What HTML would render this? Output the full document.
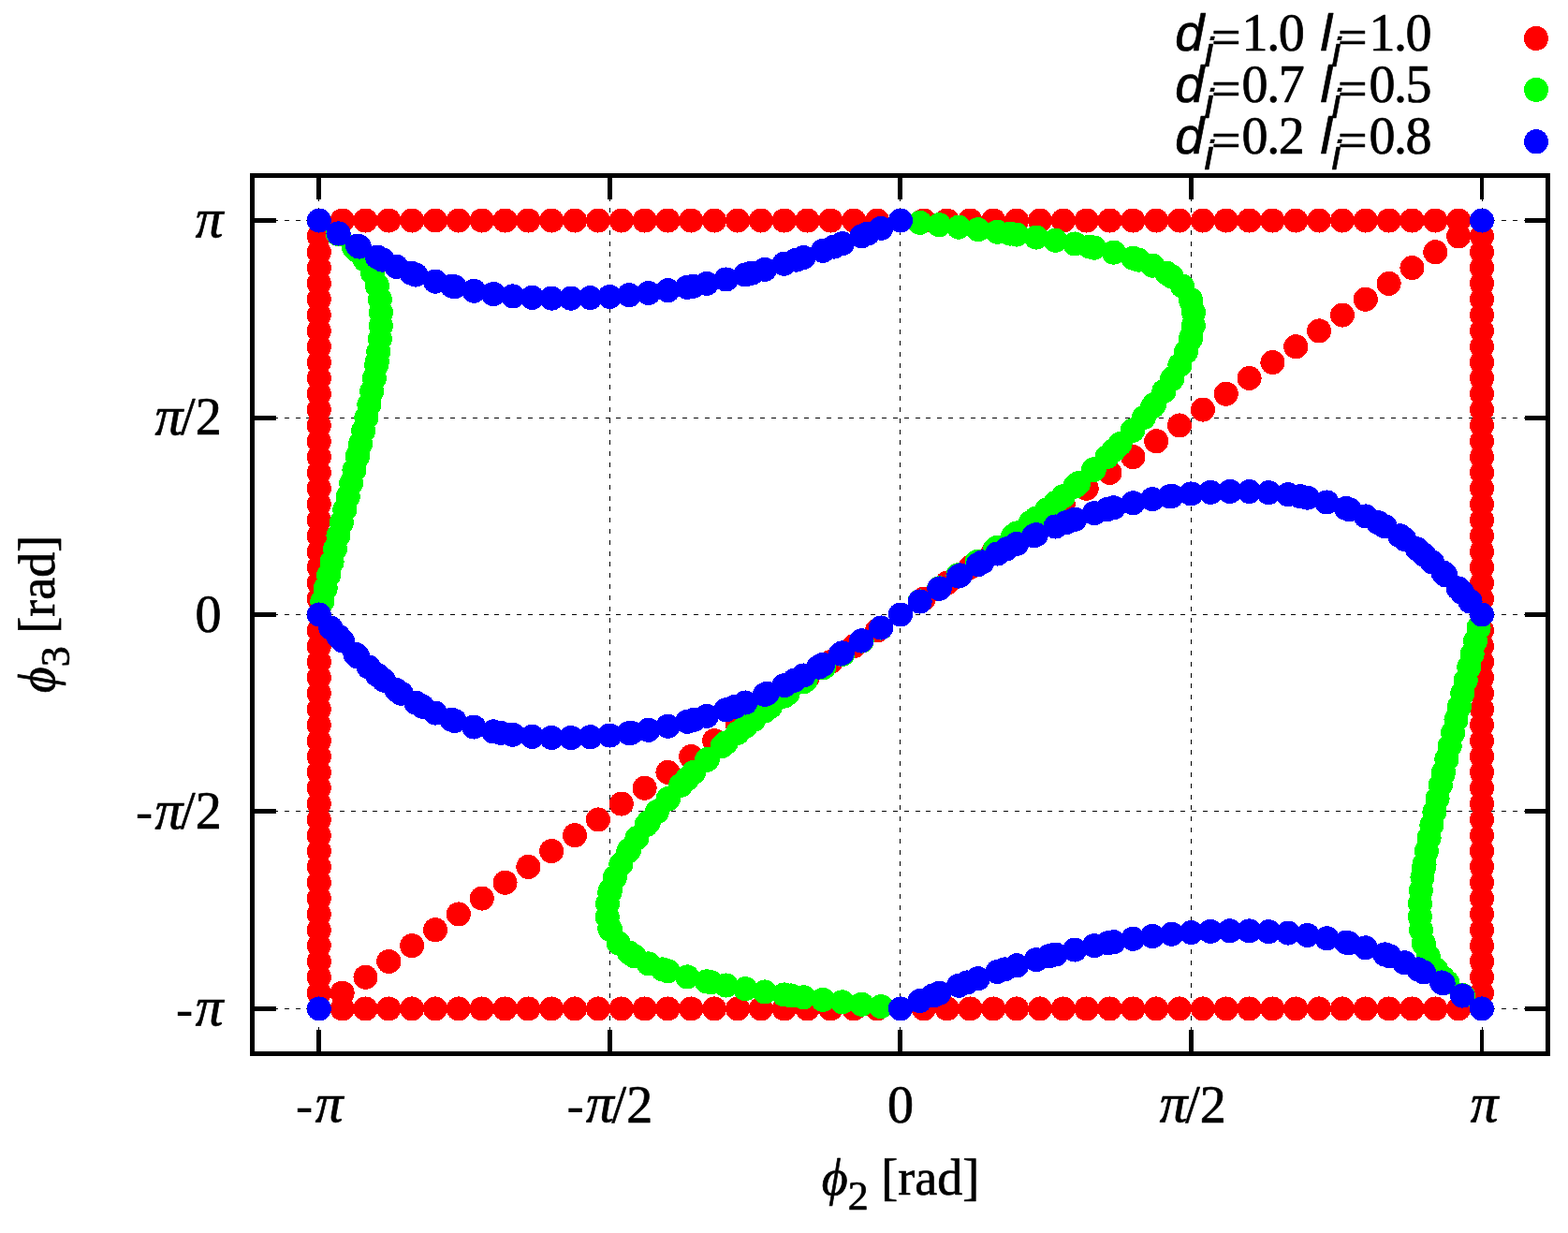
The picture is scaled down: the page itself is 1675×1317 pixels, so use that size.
<!DOCTYPE html>
<html><head><meta charset="utf-8"><title>phi2 phi3</title><style>html,body{margin:0;padding:0;background:#fff}svg{display:block}</style></head><body>
<svg width="1675" height="1317" viewBox="0 0 1675 1317">
<rect width="1675" height="1317" fill="#fff"/>
<g stroke="#000" stroke-width="1" stroke-dasharray="5 6.82" fill="none" shape-rendering="crispEdges"><path d="M340.5 1125.5V190.0"/><path d="M651.5 1125.5V190.0"/><path d="M961.5 1125.5V190.0"/><path d="M1272.5 1125.5V190.0"/><path d="M1583.5 1125.5V190.0"/><path d="M268.3 235.5H1651.0"/><path d="M268.3 446.5H1651.0"/><path d="M268.3 656.5H1651.0"/><path d="M268.3 866.5H1651.0"/><path d="M268.3 1077.5H1651.0"/></g>
<g fill="#000" shape-rendering="crispEdges"><rect x="338" y="190" width="5" height="23"/><rect x="338" y="1100" width="5" height="23"/><rect x="649" y="190" width="5" height="23"/><rect x="649" y="1100" width="5" height="23"/><rect x="959" y="190" width="5" height="23"/><rect x="959" y="1100" width="5" height="23"/><rect x="1270" y="190" width="5" height="23"/><rect x="1270" y="1100" width="5" height="23"/><rect x="1581" y="190" width="4" height="23"/><rect x="1581" y="1100" width="4" height="23"/><rect x="272" y="233" width="23" height="5"/><rect x="1629" y="233" width="22" height="5"/><rect x="272" y="444" width="23" height="5"/><rect x="1629" y="444" width="22" height="5"/><rect x="272" y="654" width="23" height="5"/><rect x="1629" y="654" width="22" height="5"/><rect x="272" y="864" width="23" height="5"/><rect x="1629" y="864" width="22" height="5"/><rect x="272" y="1075" width="23" height="5"/><rect x="1629" y="1075" width="22" height="5"/></g>
<g shape-rendering="crispEdges">
<g fill="#ff0000"><circle cx="340.78" cy="1077.47" r="13.03"/><circle cx="340.78" cy="235.53" r="13.03"/><circle cx="365.62" cy="1060.63" r="13.03"/><circle cx="365.62" cy="235.53" r="13.03"/><circle cx="365.62" cy="1077.47" r="13.03"/><circle cx="390.47" cy="1043.80" r="13.03"/><circle cx="390.47" cy="235.53" r="13.03"/><circle cx="390.47" cy="1077.47" r="13.03"/><circle cx="415.31" cy="1026.96" r="13.03"/><circle cx="415.31" cy="235.53" r="13.03"/><circle cx="415.31" cy="1077.47" r="13.03"/><circle cx="440.16" cy="1010.12" r="13.03"/><circle cx="440.16" cy="235.53" r="13.03"/><circle cx="440.16" cy="1077.47" r="13.03"/><circle cx="465.00" cy="993.28" r="13.03"/><circle cx="465.00" cy="235.53" r="13.03"/><circle cx="465.00" cy="1077.47" r="13.03"/><circle cx="489.85" cy="976.44" r="13.03"/><circle cx="489.85" cy="235.53" r="13.03"/><circle cx="489.85" cy="1077.47" r="13.03"/><circle cx="514.69" cy="959.60" r="13.03"/><circle cx="514.69" cy="235.53" r="13.03"/><circle cx="514.69" cy="1077.47" r="13.03"/><circle cx="539.54" cy="942.76" r="13.03"/><circle cx="539.54" cy="235.53" r="13.03"/><circle cx="539.54" cy="1077.47" r="13.03"/><circle cx="564.38" cy="925.92" r="13.03"/><circle cx="564.38" cy="235.53" r="13.03"/><circle cx="564.38" cy="1077.47" r="13.03"/><circle cx="589.23" cy="909.08" r="13.03"/><circle cx="589.23" cy="235.53" r="13.03"/><circle cx="589.23" cy="1077.47" r="13.03"/><circle cx="614.07" cy="892.25" r="13.03"/><circle cx="614.07" cy="235.53" r="13.03"/><circle cx="614.07" cy="1077.47" r="13.03"/><circle cx="638.92" cy="875.41" r="13.03"/><circle cx="638.92" cy="235.53" r="13.03"/><circle cx="638.92" cy="1077.47" r="13.03"/><circle cx="663.76" cy="858.57" r="13.03"/><circle cx="663.76" cy="235.53" r="13.03"/><circle cx="663.76" cy="1077.47" r="13.03"/><circle cx="688.61" cy="841.73" r="13.03"/><circle cx="688.61" cy="235.53" r="13.03"/><circle cx="688.61" cy="1077.47" r="13.03"/><circle cx="713.45" cy="824.89" r="13.03"/><circle cx="713.45" cy="235.53" r="13.03"/><circle cx="713.45" cy="1077.47" r="13.03"/><circle cx="738.30" cy="808.05" r="13.03"/><circle cx="738.30" cy="235.53" r="13.03"/><circle cx="738.30" cy="1077.47" r="13.03"/><circle cx="763.14" cy="791.21" r="13.03"/><circle cx="763.14" cy="235.53" r="13.03"/><circle cx="763.14" cy="1077.47" r="13.03"/><circle cx="787.99" cy="774.37" r="13.03"/><circle cx="787.99" cy="235.53" r="13.03"/><circle cx="787.99" cy="1077.47" r="13.03"/><circle cx="812.83" cy="757.53" r="13.03"/><circle cx="812.83" cy="235.53" r="13.03"/><circle cx="812.83" cy="1077.47" r="13.03"/><circle cx="837.68" cy="740.69" r="13.03"/><circle cx="837.68" cy="235.53" r="13.03"/><circle cx="837.68" cy="1077.47" r="13.03"/><circle cx="862.52" cy="723.86" r="13.03"/><circle cx="862.52" cy="235.53" r="13.03"/><circle cx="862.52" cy="1077.47" r="13.03"/><circle cx="887.37" cy="707.02" r="13.03"/><circle cx="887.37" cy="235.53" r="13.03"/><circle cx="887.37" cy="1077.47" r="13.03"/><circle cx="912.21" cy="690.18" r="13.03"/><circle cx="912.21" cy="235.53" r="13.03"/><circle cx="912.21" cy="1077.47" r="13.03"/><circle cx="937.06" cy="673.34" r="13.03"/><circle cx="937.06" cy="235.53" r="13.03"/><circle cx="937.06" cy="1077.47" r="13.03"/><circle cx="961.90" cy="656.50" r="13.03"/><circle cx="961.90" cy="235.53" r="13.03"/><circle cx="961.90" cy="1077.47" r="13.03"/><circle cx="986.74" cy="639.66" r="13.03"/><circle cx="986.74" cy="235.53" r="13.03"/><circle cx="986.74" cy="1077.47" r="13.03"/><circle cx="1011.59" cy="622.82" r="13.03"/><circle cx="1011.59" cy="235.53" r="13.03"/><circle cx="1011.59" cy="1077.47" r="13.03"/><circle cx="1036.43" cy="605.98" r="13.03"/><circle cx="1036.43" cy="235.53" r="13.03"/><circle cx="1036.43" cy="1077.47" r="13.03"/><circle cx="1061.28" cy="589.14" r="13.03"/><circle cx="1061.28" cy="235.53" r="13.03"/><circle cx="1061.28" cy="1077.47" r="13.03"/><circle cx="1086.12" cy="572.31" r="13.03"/><circle cx="1086.12" cy="235.53" r="13.03"/><circle cx="1086.12" cy="1077.47" r="13.03"/><circle cx="1110.97" cy="555.47" r="13.03"/><circle cx="1110.97" cy="235.53" r="13.03"/><circle cx="1110.97" cy="1077.47" r="13.03"/><circle cx="1135.81" cy="538.63" r="13.03"/><circle cx="1135.81" cy="235.53" r="13.03"/><circle cx="1135.81" cy="1077.47" r="13.03"/><circle cx="1160.66" cy="521.79" r="13.03"/><circle cx="1160.66" cy="235.53" r="13.03"/><circle cx="1160.66" cy="1077.47" r="13.03"/><circle cx="1185.50" cy="504.95" r="13.03"/><circle cx="1185.50" cy="235.53" r="13.03"/><circle cx="1185.50" cy="1077.47" r="13.03"/><circle cx="1210.35" cy="488.11" r="13.03"/><circle cx="1210.35" cy="235.53" r="13.03"/><circle cx="1210.35" cy="1077.47" r="13.03"/><circle cx="1235.19" cy="471.27" r="13.03"/><circle cx="1235.19" cy="235.53" r="13.03"/><circle cx="1235.19" cy="1077.47" r="13.03"/><circle cx="1260.04" cy="454.43" r="13.03"/><circle cx="1260.04" cy="235.53" r="13.03"/><circle cx="1260.04" cy="1077.47" r="13.03"/><circle cx="1284.88" cy="437.59" r="13.03"/><circle cx="1284.88" cy="235.53" r="13.03"/><circle cx="1284.88" cy="1077.47" r="13.03"/><circle cx="1309.73" cy="420.75" r="13.03"/><circle cx="1309.73" cy="235.53" r="13.03"/><circle cx="1309.73" cy="1077.47" r="13.03"/><circle cx="1334.57" cy="403.92" r="13.03"/><circle cx="1334.57" cy="235.53" r="13.03"/><circle cx="1334.57" cy="1077.47" r="13.03"/><circle cx="1359.42" cy="387.08" r="13.03"/><circle cx="1359.42" cy="235.53" r="13.03"/><circle cx="1359.42" cy="1077.47" r="13.03"/><circle cx="1384.26" cy="370.24" r="13.03"/><circle cx="1384.26" cy="235.53" r="13.03"/><circle cx="1384.26" cy="1077.47" r="13.03"/><circle cx="1409.11" cy="353.40" r="13.03"/><circle cx="1409.11" cy="235.53" r="13.03"/><circle cx="1409.11" cy="1077.47" r="13.03"/><circle cx="1433.95" cy="336.56" r="13.03"/><circle cx="1433.95" cy="235.53" r="13.03"/><circle cx="1433.95" cy="1077.47" r="13.03"/><circle cx="1458.80" cy="319.72" r="13.03"/><circle cx="1458.80" cy="235.53" r="13.03"/><circle cx="1458.80" cy="1077.47" r="13.03"/><circle cx="1483.64" cy="302.88" r="13.03"/><circle cx="1483.64" cy="235.53" r="13.03"/><circle cx="1483.64" cy="1077.47" r="13.03"/><circle cx="1508.49" cy="286.04" r="13.03"/><circle cx="1508.49" cy="235.53" r="13.03"/><circle cx="1508.49" cy="1077.47" r="13.03"/><circle cx="1533.33" cy="269.20" r="13.03"/><circle cx="1533.33" cy="235.53" r="13.03"/><circle cx="1533.33" cy="1077.47" r="13.03"/><circle cx="1558.18" cy="252.37" r="13.03"/><circle cx="1558.18" cy="235.53" r="13.03"/><circle cx="1558.18" cy="1077.47" r="13.03"/><circle cx="1583.02" cy="235.53" r="13.03"/><circle cx="1583.02" cy="1077.47" r="13.03"/><circle cx="340.78" cy="1060.63" r="13.03"/><circle cx="1583.02" cy="1060.63" r="13.03"/><circle cx="340.78" cy="1043.80" r="13.03"/><circle cx="1583.02" cy="1043.80" r="13.03"/><circle cx="340.78" cy="1026.96" r="13.03"/><circle cx="1583.02" cy="1026.96" r="13.03"/><circle cx="340.78" cy="1010.12" r="13.03"/><circle cx="1583.02" cy="1010.12" r="13.03"/><circle cx="340.78" cy="993.28" r="13.03"/><circle cx="1583.02" cy="993.28" r="13.03"/><circle cx="340.78" cy="976.44" r="13.03"/><circle cx="1583.02" cy="976.44" r="13.03"/><circle cx="340.78" cy="959.60" r="13.03"/><circle cx="1583.02" cy="959.60" r="13.03"/><circle cx="340.78" cy="942.76" r="13.03"/><circle cx="1583.02" cy="942.76" r="13.03"/><circle cx="340.78" cy="925.92" r="13.03"/><circle cx="1583.02" cy="925.92" r="13.03"/><circle cx="340.78" cy="909.08" r="13.03"/><circle cx="1583.02" cy="909.08" r="13.03"/><circle cx="340.78" cy="892.25" r="13.03"/><circle cx="1583.02" cy="892.25" r="13.03"/><circle cx="340.78" cy="875.41" r="13.03"/><circle cx="1583.02" cy="875.41" r="13.03"/><circle cx="340.78" cy="858.57" r="13.03"/><circle cx="1583.02" cy="858.57" r="13.03"/><circle cx="340.78" cy="841.73" r="13.03"/><circle cx="1583.02" cy="841.73" r="13.03"/><circle cx="340.78" cy="824.89" r="13.03"/><circle cx="1583.02" cy="824.89" r="13.03"/><circle cx="340.78" cy="808.05" r="13.03"/><circle cx="1583.02" cy="808.05" r="13.03"/><circle cx="340.78" cy="791.21" r="13.03"/><circle cx="1583.02" cy="791.21" r="13.03"/><circle cx="340.78" cy="774.37" r="13.03"/><circle cx="1583.02" cy="774.37" r="13.03"/><circle cx="340.78" cy="757.53" r="13.03"/><circle cx="1583.02" cy="757.53" r="13.03"/><circle cx="340.78" cy="740.69" r="13.03"/><circle cx="1583.02" cy="740.69" r="13.03"/><circle cx="340.78" cy="723.86" r="13.03"/><circle cx="1583.02" cy="723.86" r="13.03"/><circle cx="340.78" cy="707.02" r="13.03"/><circle cx="1583.02" cy="707.02" r="13.03"/><circle cx="340.78" cy="690.18" r="13.03"/><circle cx="1583.02" cy="690.18" r="13.03"/><circle cx="340.78" cy="673.34" r="13.03"/><circle cx="1583.02" cy="673.34" r="13.03"/><circle cx="340.78" cy="656.50" r="13.03"/><circle cx="1583.02" cy="656.50" r="13.03"/><circle cx="340.78" cy="639.66" r="13.03"/><circle cx="1583.02" cy="639.66" r="13.03"/><circle cx="340.78" cy="622.82" r="13.03"/><circle cx="1583.02" cy="622.82" r="13.03"/><circle cx="340.78" cy="605.98" r="13.03"/><circle cx="1583.02" cy="605.98" r="13.03"/><circle cx="340.78" cy="589.14" r="13.03"/><circle cx="1583.02" cy="589.14" r="13.03"/><circle cx="340.78" cy="572.31" r="13.03"/><circle cx="1583.02" cy="572.31" r="13.03"/><circle cx="340.78" cy="555.47" r="13.03"/><circle cx="1583.02" cy="555.47" r="13.03"/><circle cx="340.78" cy="538.63" r="13.03"/><circle cx="1583.02" cy="538.63" r="13.03"/><circle cx="340.78" cy="521.79" r="13.03"/><circle cx="1583.02" cy="521.79" r="13.03"/><circle cx="340.78" cy="504.95" r="13.03"/><circle cx="1583.02" cy="504.95" r="13.03"/><circle cx="340.78" cy="488.11" r="13.03"/><circle cx="1583.02" cy="488.11" r="13.03"/><circle cx="340.78" cy="471.27" r="13.03"/><circle cx="1583.02" cy="471.27" r="13.03"/><circle cx="340.78" cy="454.43" r="13.03"/><circle cx="1583.02" cy="454.43" r="13.03"/><circle cx="340.78" cy="437.59" r="13.03"/><circle cx="1583.02" cy="437.59" r="13.03"/><circle cx="340.78" cy="420.75" r="13.03"/><circle cx="1583.02" cy="420.75" r="13.03"/><circle cx="340.78" cy="403.92" r="13.03"/><circle cx="1583.02" cy="403.92" r="13.03"/><circle cx="340.78" cy="387.08" r="13.03"/><circle cx="1583.02" cy="387.08" r="13.03"/><circle cx="340.78" cy="370.24" r="13.03"/><circle cx="1583.02" cy="370.24" r="13.03"/><circle cx="340.78" cy="353.40" r="13.03"/><circle cx="1583.02" cy="353.40" r="13.03"/><circle cx="340.78" cy="336.56" r="13.03"/><circle cx="1583.02" cy="336.56" r="13.03"/><circle cx="340.78" cy="319.72" r="13.03"/><circle cx="1583.02" cy="319.72" r="13.03"/><circle cx="340.78" cy="302.88" r="13.03"/><circle cx="1583.02" cy="302.88" r="13.03"/><circle cx="340.78" cy="286.04" r="13.03"/><circle cx="1583.02" cy="286.04" r="13.03"/><circle cx="340.78" cy="269.20" r="13.03"/><circle cx="1583.02" cy="269.20" r="13.03"/><circle cx="340.78" cy="252.37" r="13.03"/><circle cx="1583.02" cy="252.37" r="13.03"/></g>

<g fill="#00ff00"><circle cx="340.78" cy="1077.47" r="13.03"/><circle cx="340.78" cy="235.53" r="13.03"/><circle cx="1583.02" cy="1077.47" r="13.03"/><circle cx="1583.02" cy="235.53" r="13.03"/><circle cx="340.78" cy="656.50" r="13.03"/><circle cx="1583.02" cy="656.50" r="13.03"/><circle cx="361.48" cy="250.04" r="13.03"/><circle cx="361.48" cy="572.20" r="13.03"/><circle cx="382.18" cy="268.26" r="13.03"/><circle cx="382.18" cy="486.38" r="13.03"/><circle cx="402.89" cy="304.96" r="13.03"/><circle cx="402.89" cy="385.98" r="13.03"/><circle cx="651.34" cy="953.22" r="13.03"/><circle cx="651.34" cy="991.24" r="13.03"/><circle cx="672.04" cy="907.91" r="13.03"/><circle cx="672.04" cy="1017.57" r="13.03"/><circle cx="692.75" cy="878.37" r="13.03"/><circle cx="692.75" cy="1029.37" r="13.03"/><circle cx="713.45" cy="853.70" r="13.03"/><circle cx="713.45" cy="1037.33" r="13.03"/><circle cx="734.15" cy="831.85" r="13.03"/><circle cx="734.15" cy="1043.40" r="13.03"/><circle cx="754.86" cy="811.91" r="13.03"/><circle cx="754.86" cy="1048.33" r="13.03"/><circle cx="775.56" cy="793.40" r="13.03"/><circle cx="775.56" cy="1052.51" r="13.03"/><circle cx="796.27" cy="775.99" r="13.03"/><circle cx="796.27" cy="1056.17" r="13.03"/><circle cx="816.97" cy="759.46" r="13.03"/><circle cx="816.97" cy="1059.44" r="13.03"/><circle cx="837.68" cy="743.61" r="13.03"/><circle cx="837.68" cy="1062.44" r="13.03"/><circle cx="858.38" cy="728.32" r="13.03"/><circle cx="858.38" cy="1065.22" r="13.03"/><circle cx="879.08" cy="713.47" r="13.03"/><circle cx="879.08" cy="1067.84" r="13.03"/><circle cx="899.79" cy="698.95" r="13.03"/><circle cx="899.79" cy="1070.34" r="13.03"/><circle cx="920.49" cy="684.67" r="13.03"/><circle cx="920.49" cy="1072.76" r="13.03"/><circle cx="941.20" cy="670.55" r="13.03"/><circle cx="941.20" cy="1075.13" r="13.03"/><circle cx="961.90" cy="656.50" r="13.03"/><circle cx="961.90" cy="1077.47" r="13.03"/><circle cx="961.90" cy="235.53" r="13.03"/><circle cx="982.60" cy="642.45" r="13.03"/><circle cx="982.60" cy="237.87" r="13.03"/><circle cx="1003.31" cy="628.33" r="13.03"/><circle cx="1003.31" cy="240.24" r="13.03"/><circle cx="1024.01" cy="614.05" r="13.03"/><circle cx="1024.01" cy="242.66" r="13.03"/><circle cx="1044.72" cy="599.53" r="13.03"/><circle cx="1044.72" cy="245.16" r="13.03"/><circle cx="1065.42" cy="584.68" r="13.03"/><circle cx="1065.42" cy="247.78" r="13.03"/><circle cx="1086.12" cy="569.39" r="13.03"/><circle cx="1086.12" cy="250.56" r="13.03"/><circle cx="1106.83" cy="553.54" r="13.03"/><circle cx="1106.83" cy="253.56" r="13.03"/><circle cx="1127.53" cy="537.01" r="13.03"/><circle cx="1127.53" cy="256.83" r="13.03"/><circle cx="1148.24" cy="519.60" r="13.03"/><circle cx="1148.24" cy="260.49" r="13.03"/><circle cx="1168.94" cy="501.09" r="13.03"/><circle cx="1168.94" cy="264.67" r="13.03"/><circle cx="1189.65" cy="481.15" r="13.03"/><circle cx="1189.65" cy="269.60" r="13.03"/><circle cx="1210.35" cy="459.30" r="13.03"/><circle cx="1210.35" cy="275.67" r="13.03"/><circle cx="1231.05" cy="434.63" r="13.03"/><circle cx="1231.05" cy="283.63" r="13.03"/><circle cx="1251.76" cy="405.09" r="13.03"/><circle cx="1251.76" cy="295.43" r="13.03"/><circle cx="1272.46" cy="359.78" r="13.03"/><circle cx="1272.46" cy="321.76" r="13.03"/><circle cx="1520.91" cy="1008.04" r="13.03"/><circle cx="1520.91" cy="927.02" r="13.03"/><circle cx="1541.62" cy="1044.74" r="13.03"/><circle cx="1541.62" cy="826.62" r="13.03"/><circle cx="1562.32" cy="1062.96" r="13.03"/><circle cx="1562.32" cy="740.80" r="13.03"/><circle cx="845.00" cy="1063.44" r="13.03"/><circle cx="1562.97" cy="1063.44" r="13.03"/><circle cx="759.90" cy="1049.41" r="13.03"/><circle cx="1546.19" cy="1049.41" r="13.03"/><circle cx="707.75" cy="1035.38" r="13.03"/><circle cx="1533.93" cy="1035.38" r="13.03"/><circle cx="677.61" cy="1021.34" r="13.03"/><circle cx="1525.75" cy="1021.34" r="13.03"/><circle cx="660.77" cy="1007.31" r="13.03"/><circle cx="1520.71" cy="1007.31" r="13.03"/><circle cx="652.11" cy="993.28" r="13.03"/><circle cx="1517.97" cy="993.28" r="13.03"/><circle cx="648.74" cy="979.25" r="13.03"/><circle cx="1516.87" cy="979.25" r="13.03"/><circle cx="649.00" cy="965.21" r="13.03"/><circle cx="1516.96" cy="965.21" r="13.03"/><circle cx="651.90" cy="951.18" r="13.03"/><circle cx="1517.90" cy="951.18" r="13.03"/><circle cx="656.82" cy="937.15" r="13.03"/><circle cx="1519.48" cy="937.15" r="13.03"/><circle cx="663.38" cy="923.12" r="13.03"/><circle cx="1521.52" cy="923.12" r="13.03"/><circle cx="671.32" cy="909.08" r="13.03"/><circle cx="1523.91" cy="909.08" r="13.03"/><circle cx="680.47" cy="895.05" r="13.03"/><circle cx="1526.57" cy="895.05" r="13.03"/><circle cx="690.70" cy="881.02" r="13.03"/><circle cx="1529.42" cy="881.02" r="13.03"/><circle cx="701.94" cy="866.99" r="13.03"/><circle cx="1532.42" cy="866.99" r="13.03"/><circle cx="714.13" cy="852.95" r="13.03"/><circle cx="1535.54" cy="852.95" r="13.03"/><circle cx="727.22" cy="838.92" r="13.03"/><circle cx="1538.75" cy="838.92" r="13.03"/><circle cx="741.19" cy="824.89" r="13.03"/><circle cx="1542.02" cy="824.89" r="13.03"/><circle cx="756.00" cy="810.86" r="13.03"/><circle cx="1545.34" cy="810.86" r="13.03"/><circle cx="771.63" cy="796.82" r="13.03"/><circle cx="1548.70" cy="796.82" r="13.03"/><circle cx="788.04" cy="782.79" r="13.03"/><circle cx="1552.09" cy="782.79" r="13.03"/><circle cx="805.20" cy="768.76" r="13.03"/><circle cx="1555.49" cy="768.76" r="13.03"/><circle cx="823.06" cy="754.73" r="13.03"/><circle cx="1558.91" cy="754.73" r="13.03"/><circle cx="841.57" cy="740.69" r="13.03"/><circle cx="1562.35" cy="740.69" r="13.03"/><circle cx="860.67" cy="726.66" r="13.03"/><circle cx="1565.78" cy="726.66" r="13.03"/><circle cx="880.27" cy="712.63" r="13.03"/><circle cx="1569.23" cy="712.63" r="13.03"/><circle cx="900.29" cy="698.60" r="13.03"/><circle cx="1572.67" cy="698.60" r="13.03"/><circle cx="920.64" cy="684.56" r="13.03"/><circle cx="1576.12" cy="684.56" r="13.03"/><circle cx="1579.57" cy="670.53" r="13.03"/><circle cx="344.23" cy="642.47" r="13.03"/><circle cx="1003.16" cy="628.44" r="13.03"/><circle cx="347.68" cy="628.44" r="13.03"/><circle cx="1023.51" cy="614.40" r="13.03"/><circle cx="351.13" cy="614.40" r="13.03"/><circle cx="1043.53" cy="600.37" r="13.03"/><circle cx="354.57" cy="600.37" r="13.03"/><circle cx="1063.13" cy="586.34" r="13.03"/><circle cx="358.02" cy="586.34" r="13.03"/><circle cx="1082.23" cy="572.31" r="13.03"/><circle cx="361.45" cy="572.31" r="13.03"/><circle cx="1100.74" cy="558.27" r="13.03"/><circle cx="364.89" cy="558.27" r="13.03"/><circle cx="1118.60" cy="544.24" r="13.03"/><circle cx="368.31" cy="544.24" r="13.03"/><circle cx="1135.76" cy="530.21" r="13.03"/><circle cx="371.71" cy="530.21" r="13.03"/><circle cx="1152.17" cy="516.18" r="13.03"/><circle cx="375.10" cy="516.18" r="13.03"/><circle cx="1167.80" cy="502.14" r="13.03"/><circle cx="378.46" cy="502.14" r="13.03"/><circle cx="1182.61" cy="488.11" r="13.03"/><circle cx="381.78" cy="488.11" r="13.03"/><circle cx="1196.58" cy="474.08" r="13.03"/><circle cx="385.05" cy="474.08" r="13.03"/><circle cx="1209.67" cy="460.05" r="13.03"/><circle cx="388.26" cy="460.05" r="13.03"/><circle cx="1221.86" cy="446.01" r="13.03"/><circle cx="391.38" cy="446.01" r="13.03"/><circle cx="1233.10" cy="431.98" r="13.03"/><circle cx="394.38" cy="431.98" r="13.03"/><circle cx="1243.33" cy="417.95" r="13.03"/><circle cx="397.23" cy="417.95" r="13.03"/><circle cx="1252.48" cy="403.92" r="13.03"/><circle cx="399.89" cy="403.92" r="13.03"/><circle cx="1260.42" cy="389.88" r="13.03"/><circle cx="402.28" cy="389.88" r="13.03"/><circle cx="1266.98" cy="375.85" r="13.03"/><circle cx="404.32" cy="375.85" r="13.03"/><circle cx="1271.90" cy="361.82" r="13.03"/><circle cx="405.90" cy="361.82" r="13.03"/><circle cx="1274.80" cy="347.79" r="13.03"/><circle cx="406.84" cy="347.79" r="13.03"/><circle cx="1275.06" cy="333.75" r="13.03"/><circle cx="406.93" cy="333.75" r="13.03"/><circle cx="1271.69" cy="319.72" r="13.03"/><circle cx="405.83" cy="319.72" r="13.03"/><circle cx="1263.03" cy="305.69" r="13.03"/><circle cx="403.09" cy="305.69" r="13.03"/><circle cx="1246.19" cy="291.66" r="13.03"/><circle cx="398.05" cy="291.66" r="13.03"/><circle cx="1216.05" cy="277.62" r="13.03"/><circle cx="389.87" cy="277.62" r="13.03"/><circle cx="1163.90" cy="263.59" r="13.03"/><circle cx="377.61" cy="263.59" r="13.03"/><circle cx="1078.80" cy="249.56" r="13.03"/><circle cx="360.83" cy="249.56" r="13.03"/></g>

<g fill="#0000ff"><circle cx="340.78" cy="656.50" r="13.03"/><circle cx="1583.02" cy="656.50" r="13.03"/><circle cx="340.78" cy="1077.47" r="13.03"/><circle cx="340.78" cy="235.53" r="13.03"/><circle cx="1583.02" cy="1077.47" r="13.03"/><circle cx="1583.02" cy="235.53" r="13.03"/><circle cx="361.48" cy="679.64" r="13.03"/><circle cx="361.48" cy="249.43" r="13.03"/><circle cx="382.18" cy="701.38" r="13.03"/><circle cx="382.18" cy="262.62" r="13.03"/><circle cx="402.89" cy="720.72" r="13.03"/><circle cx="402.89" cy="274.53" r="13.03"/><circle cx="423.59" cy="737.16" r="13.03"/><circle cx="423.59" cy="284.87" r="13.03"/><circle cx="444.30" cy="750.69" r="13.03"/><circle cx="444.30" cy="293.56" r="13.03"/><circle cx="465.00" cy="761.54" r="13.03"/><circle cx="465.00" cy="300.67" r="13.03"/><circle cx="485.70" cy="770.04" r="13.03"/><circle cx="485.70" cy="306.35" r="13.03"/><circle cx="506.41" cy="776.54" r="13.03"/><circle cx="506.41" cy="310.75" r="13.03"/><circle cx="527.11" cy="781.36" r="13.03"/><circle cx="527.11" cy="314.05" r="13.03"/><circle cx="547.82" cy="784.74" r="13.03"/><circle cx="547.82" cy="316.39" r="13.03"/><circle cx="568.52" cy="786.88" r="13.03"/><circle cx="568.52" cy="317.88" r="13.03"/><circle cx="589.23" cy="787.94" r="13.03"/><circle cx="589.23" cy="318.62" r="13.03"/><circle cx="609.93" cy="788.03" r="13.03"/><circle cx="609.93" cy="318.68" r="13.03"/><circle cx="630.63" cy="787.21" r="13.03"/><circle cx="630.63" cy="318.11" r="13.03"/><circle cx="651.34" cy="785.56" r="13.03"/><circle cx="651.34" cy="316.96" r="13.03"/><circle cx="672.04" cy="783.08" r="13.03"/><circle cx="672.04" cy="315.24" r="13.03"/><circle cx="692.75" cy="779.80" r="13.03"/><circle cx="692.75" cy="312.98" r="13.03"/><circle cx="713.45" cy="775.69" r="13.03"/><circle cx="713.45" cy="310.17" r="13.03"/><circle cx="734.15" cy="770.74" r="13.03"/><circle cx="734.15" cy="306.82" r="13.03"/><circle cx="754.86" cy="764.93" r="13.03"/><circle cx="754.86" cy="302.92" r="13.03"/><circle cx="775.56" cy="758.20" r="13.03"/><circle cx="775.56" cy="298.47" r="13.03"/><circle cx="796.27" cy="750.51" r="13.03"/><circle cx="796.27" cy="293.45" r="13.03"/><circle cx="816.97" cy="741.85" r="13.03"/><circle cx="816.97" cy="287.86" r="13.03"/><circle cx="837.68" cy="732.18" r="13.03"/><circle cx="837.68" cy="281.72" r="13.03"/><circle cx="858.38" cy="721.51" r="13.03"/><circle cx="858.38" cy="275.03" r="13.03"/><circle cx="879.08" cy="709.89" r="13.03"/><circle cx="879.08" cy="267.83" r="13.03"/><circle cx="899.79" cy="697.40" r="13.03"/><circle cx="899.79" cy="260.19" r="13.03"/><circle cx="920.49" cy="684.20" r="13.03"/><circle cx="920.49" cy="252.19" r="13.03"/><circle cx="941.20" cy="670.49" r="13.03"/><circle cx="941.20" cy="243.92" r="13.03"/><circle cx="961.90" cy="656.50" r="13.03"/><circle cx="961.90" cy="1077.47" r="13.03"/><circle cx="961.90" cy="235.53" r="13.03"/><circle cx="982.60" cy="642.51" r="13.03"/><circle cx="982.60" cy="1069.08" r="13.03"/><circle cx="1003.31" cy="628.80" r="13.03"/><circle cx="1003.31" cy="1060.81" r="13.03"/><circle cx="1024.01" cy="615.60" r="13.03"/><circle cx="1024.01" cy="1052.81" r="13.03"/><circle cx="1044.72" cy="603.11" r="13.03"/><circle cx="1044.72" cy="1045.17" r="13.03"/><circle cx="1065.42" cy="591.49" r="13.03"/><circle cx="1065.42" cy="1037.97" r="13.03"/><circle cx="1086.12" cy="580.82" r="13.03"/><circle cx="1086.12" cy="1031.28" r="13.03"/><circle cx="1106.83" cy="571.15" r="13.03"/><circle cx="1106.83" cy="1025.14" r="13.03"/><circle cx="1127.53" cy="562.49" r="13.03"/><circle cx="1127.53" cy="1019.55" r="13.03"/><circle cx="1148.24" cy="554.80" r="13.03"/><circle cx="1148.24" cy="1014.53" r="13.03"/><circle cx="1168.94" cy="548.07" r="13.03"/><circle cx="1168.94" cy="1010.08" r="13.03"/><circle cx="1189.65" cy="542.26" r="13.03"/><circle cx="1189.65" cy="1006.18" r="13.03"/><circle cx="1210.35" cy="537.31" r="13.03"/><circle cx="1210.35" cy="1002.83" r="13.03"/><circle cx="1231.05" cy="533.20" r="13.03"/><circle cx="1231.05" cy="1000.02" r="13.03"/><circle cx="1251.76" cy="529.92" r="13.03"/><circle cx="1251.76" cy="997.76" r="13.03"/><circle cx="1272.46" cy="527.44" r="13.03"/><circle cx="1272.46" cy="996.04" r="13.03"/><circle cx="1293.17" cy="525.79" r="13.03"/><circle cx="1293.17" cy="994.89" r="13.03"/><circle cx="1313.87" cy="524.97" r="13.03"/><circle cx="1313.87" cy="994.32" r="13.03"/><circle cx="1334.57" cy="525.06" r="13.03"/><circle cx="1334.57" cy="994.38" r="13.03"/><circle cx="1355.28" cy="526.12" r="13.03"/><circle cx="1355.28" cy="995.12" r="13.03"/><circle cx="1375.98" cy="528.26" r="13.03"/><circle cx="1375.98" cy="996.61" r="13.03"/><circle cx="1396.69" cy="531.64" r="13.03"/><circle cx="1396.69" cy="998.95" r="13.03"/><circle cx="1417.39" cy="536.46" r="13.03"/><circle cx="1417.39" cy="1002.25" r="13.03"/><circle cx="1438.10" cy="542.96" r="13.03"/><circle cx="1438.10" cy="1006.65" r="13.03"/><circle cx="1458.80" cy="551.46" r="13.03"/><circle cx="1458.80" cy="1012.33" r="13.03"/><circle cx="1479.50" cy="562.31" r="13.03"/><circle cx="1479.50" cy="1019.44" r="13.03"/><circle cx="1500.21" cy="575.84" r="13.03"/><circle cx="1500.21" cy="1028.13" r="13.03"/><circle cx="1520.91" cy="592.28" r="13.03"/><circle cx="1520.91" cy="1038.47" r="13.03"/><circle cx="1541.62" cy="611.62" r="13.03"/><circle cx="1541.62" cy="1050.38" r="13.03"/><circle cx="1562.32" cy="633.36" r="13.03"/><circle cx="1562.32" cy="1063.57" r="13.03"/><circle cx="1562.13" cy="1063.44" r="13.03"/><circle cx="996.67" cy="1063.44" r="13.03"/><circle cx="1540.01" cy="1049.41" r="13.03"/><circle cx="1033.09" cy="1049.41" r="13.03"/><circle cx="1515.06" cy="1035.38" r="13.03"/><circle cx="1073.27" cy="1035.38" r="13.03"/><circle cx="1484.40" cy="1021.34" r="13.03"/><circle cx="1120.65" cy="1021.34" r="13.03"/><circle cx="1440.76" cy="1007.31" r="13.03"/><circle cx="1183.32" cy="1007.31" r="13.03"/><circle cx="674.09" cy="782.79" r="13.03"/><circle cx="534.92" cy="782.79" r="13.03"/><circle cx="741.58" cy="768.76" r="13.03"/><circle cx="482.23" cy="768.76" r="13.03"/><circle cx="785.24" cy="754.73" r="13.03"/><circle cx="451.46" cy="754.73" r="13.03"/><circle cx="819.56" cy="740.69" r="13.03"/><circle cx="428.60" cy="740.69" r="13.03"/><circle cx="848.62" cy="726.66" r="13.03"/><circle cx="409.95" cy="726.66" r="13.03"/><circle cx="874.34" cy="712.63" r="13.03"/><circle cx="393.87" cy="712.63" r="13.03"/><circle cx="897.86" cy="698.60" r="13.03"/><circle cx="379.41" cy="698.60" r="13.03"/><circle cx="919.94" cy="684.56" r="13.03"/><circle cx="366.01" cy="684.56" r="13.03"/><circle cx="941.13" cy="670.53" r="13.03"/><circle cx="353.25" cy="670.53" r="13.03"/><circle cx="982.67" cy="642.47" r="13.03"/><circle cx="1570.55" cy="642.47" r="13.03"/><circle cx="1003.86" cy="628.44" r="13.03"/><circle cx="1557.79" cy="628.44" r="13.03"/><circle cx="1025.94" cy="614.40" r="13.03"/><circle cx="1544.39" cy="614.40" r="13.03"/><circle cx="1049.46" cy="600.37" r="13.03"/><circle cx="1529.93" cy="600.37" r="13.03"/><circle cx="1075.18" cy="586.34" r="13.03"/><circle cx="1513.85" cy="586.34" r="13.03"/><circle cx="1104.24" cy="572.31" r="13.03"/><circle cx="1495.20" cy="572.31" r="13.03"/><circle cx="1138.56" cy="558.27" r="13.03"/><circle cx="1472.34" cy="558.27" r="13.03"/><circle cx="1182.22" cy="544.24" r="13.03"/><circle cx="1441.57" cy="544.24" r="13.03"/><circle cx="1249.71" cy="530.21" r="13.03"/><circle cx="1388.88" cy="530.21" r="13.03"/><circle cx="483.04" cy="305.69" r="13.03"/><circle cx="740.48" cy="305.69" r="13.03"/><circle cx="439.40" cy="291.66" r="13.03"/><circle cx="803.15" cy="291.66" r="13.03"/><circle cx="408.74" cy="277.62" r="13.03"/><circle cx="850.53" cy="277.62" r="13.03"/><circle cx="383.79" cy="263.59" r="13.03"/><circle cx="890.71" cy="263.59" r="13.03"/><circle cx="361.67" cy="249.56" r="13.03"/><circle cx="927.13" cy="249.56" r="13.03"/></g>

<circle cx="1641.0" cy="41.0" r="13.03" fill="#ff0000"/>
<circle cx="1641.0" cy="95.9" r="13.03" fill="#00ff00"/>
<circle cx="1641.0" cy="151.3" r="13.03" fill="#0000ff"/>
</g>
<rect x="269.5" y="187.5" width="1384" height="938" fill="none" stroke="#000" stroke-width="5" shape-rendering="crispEdges"/>
<g font-family="'Liberation Serif',serif" font-size="56" fill="#000" stroke="#000" stroke-width="0.7" stroke-linejoin="round">
<text y="1198.6"><tspan x="315.8" stroke="none">-</tspan><tspan x="336.8" y="1198.3" font-style="italic" font-size="59.5">π</tspan></text>
<text y="1198.6"><tspan x="605.3" stroke="none">-</tspan><tspan x="626.0" y="1198.3" font-style="italic" font-size="59.5">π</tspan><tspan x="653.6" y="1198.6">/2</tspan></text>
<text y="1198.6"><tspan x="947.9">0</tspan></text>
<text y="1198.6"><tspan x="1238.8" y="1198.3" font-style="italic" font-size="59.5">π</tspan><tspan x="1266.3" y="1198.6">/2</tspan></text>
<text y="1198.6"><tspan x="1570.7" y="1198.3" font-style="italic" font-size="59.5">π</tspan></text>
<text y="253.6"><tspan x="208.8" y="253.3" font-style="italic" font-size="59.5">π</tspan></text>
<text y="464.1"><tspan x="165.6" y="463.8" font-style="italic" font-size="59.5">π</tspan><tspan x="193.1" y="464.1">/2</tspan></text>
<text y="674.6"><tspan x="208.5">0</tspan></text>
<text y="885.1"><tspan x="144.8" stroke="none">-</tspan><tspan x="165.6" y="884.8" font-style="italic" font-size="59.5">π</tspan><tspan x="193.1" y="885.1">/2</tspan></text>
<text y="1095.6"><tspan x="187.8" stroke="none">-</tspan><tspan x="208.8" y="1095.3" font-style="italic" font-size="59.5">π</tspan></text>
<text x="962.0" y="1275.5" text-anchor="middle" font-size="54"><tspan font-style="italic">ϕ</tspan><tspan font-size="44" dy="16">2</tspan><tspan dy="-16"> [rad]</tspan></text>
<text transform="translate(58.0 656.0) rotate(-90)" text-anchor="middle" font-size="54"><tspan font-style="italic">ϕ</tspan><tspan font-size="44" dy="16">3</tspan><tspan dy="-16"> [rad]</tspan></text>
<text y="54.2"><tspan x="1255.2" font-family="'Liberation Sans',sans-serif" font-style="italic">d</tspan><tspan x="1286.5" y="70.7" font-family="'Liberation Sans',sans-serif" font-style="italic" font-size="44.5">i</tspan><tspan x="1293.9" y="59.2">=</tspan><tspan x="1326.6" y="54.2" letter-spacing="-1.4">1.0</tspan><tspan> </tspan><tspan x="1410.4" font-family="'Liberation Sans',sans-serif" font-style="italic">l</tspan><tspan x="1422.5" y="70.7" font-family="'Liberation Sans',sans-serif" font-style="italic" font-size="44.5">i</tspan><tspan x="1428.9" y="59.2">=</tspan><tspan x="1462.4" y="54.2" letter-spacing="-1.4">1.0</tspan></text>
<text y="109.1"><tspan x="1255.2" font-family="'Liberation Sans',sans-serif" font-style="italic">d</tspan><tspan x="1286.5" y="125.6" font-family="'Liberation Sans',sans-serif" font-style="italic" font-size="44.5">i</tspan><tspan x="1293.9" y="114.1">=</tspan><tspan x="1326.6" y="109.1" letter-spacing="-1.4">0.7</tspan><tspan> </tspan><tspan x="1410.4" font-family="'Liberation Sans',sans-serif" font-style="italic">l</tspan><tspan x="1422.5" y="125.6" font-family="'Liberation Sans',sans-serif" font-style="italic" font-size="44.5">i</tspan><tspan x="1428.9" y="114.1">=</tspan><tspan x="1462.4" y="109.1" letter-spacing="-1.4">0.5</tspan></text>
<text y="164.4"><tspan x="1255.2" font-family="'Liberation Sans',sans-serif" font-style="italic">d</tspan><tspan x="1286.5" y="180.9" font-family="'Liberation Sans',sans-serif" font-style="italic" font-size="44.5">i</tspan><tspan x="1293.9" y="169.4">=</tspan><tspan x="1326.6" y="164.4" letter-spacing="-1.4">0.2</tspan><tspan> </tspan><tspan x="1410.4" font-family="'Liberation Sans',sans-serif" font-style="italic">l</tspan><tspan x="1422.5" y="180.9" font-family="'Liberation Sans',sans-serif" font-style="italic" font-size="44.5">i</tspan><tspan x="1428.9" y="169.4">=</tspan><tspan x="1462.4" y="164.4" letter-spacing="-1.4">0.8</tspan></text>
</g>
</svg>
</body></html>
